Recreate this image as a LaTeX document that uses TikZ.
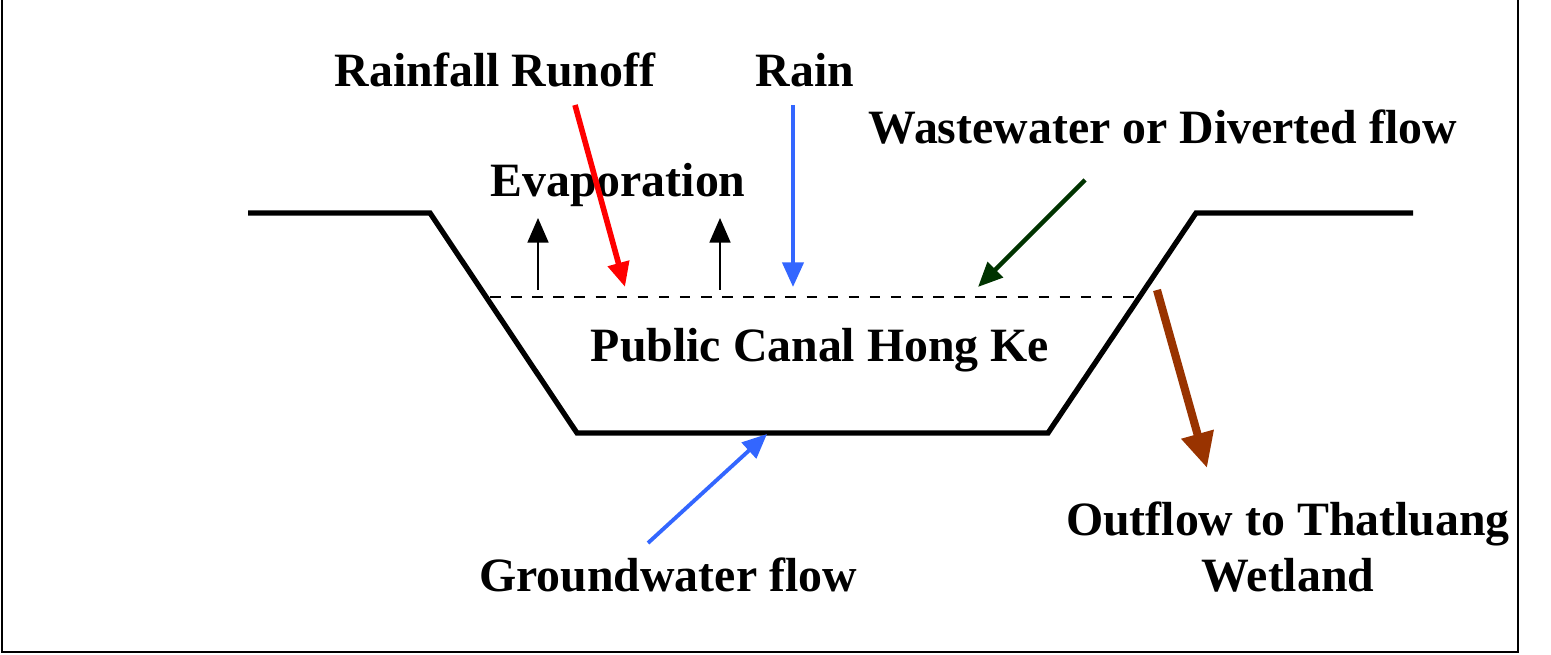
\documentclass[tikz,border=0pt]{standalone}
\usepackage{fontspec}
\setmainfont{Liberation Serif}
\usetikzlibrary{arrows.meta}
\definecolor{rainblue}{RGB}{51,102,255}
\definecolor{outbrown}{RGB}{153,51,0}
\definecolor{wastegreen}{RGB}{0,51,0}
\tikzset{
  lbl/.style={font=\fontsize{13.6}{16}\selectfont\bfseries,align=center},
  bank/.style={line width=1.5pt},
  flow/.style={-{Triangle[length=7pt,width=6pt]}},
}
\begin{document}
\begin{tikzpicture}[x=0.01cm,y=-0.01cm]
\useasboundingbox (0,0) rectangle (1551,655);
\draw [line width=0.8pt] (2,0) -- (2,652) -- (1518,652) -- (1518,0);
% canal section
\draw [bank] (248,213) -- (430,213) -- (577,433) -- (1048,433) -- (1196,213) -- (1413,213);
\draw [dashed] (490,297) -- (1140,297);
% labels
\node [lbl] (runoff) at (495,70) {Rainfall Runoff};
\node [lbl] (rain) at (805,70) {Rain};
\node [lbl] (waste) at (1163,127) {Wastewater or Diverted flow};
\node [lbl] (evap) at (618,185) {Evaporation};
\node [lbl] (canal) at (820,350) {Public Canal Hong Ke};
\node [lbl] (ground) at (668,575) {Groundwater flow};
\node [lbl] (out) at (1288,547) {Outflow to Thatluang\\Wetland};
% flows
\coordinate (e1a) at (538,290); \coordinate (e1b) at (538,218);
\coordinate (e2a) at (720,290); \coordinate (e2b) at (720,218);
\draw [flow, thin] (e1a) -- (e1b);
\draw [flow, thin] (e2a) -- (e2b);
\coordinate (r0) at (575,105); \coordinate (r1) at (625,287);
\draw [flow, red, line width=1.6pt] (r0) -- (r1);
\coordinate (ra0) at (793,105); \coordinate (ra1) at (793,287);
\draw [flow, rainblue, line width=1.1pt] (ra0) -- (ra1);
\coordinate (w0) at (1085,180); \coordinate (w1) at (978,287);
\draw [flow, wastegreen, line width=1.3pt] (w0) -- (w1);
\coordinate (o0) at (1157,290); \coordinate (o1) at (1207,468);
\draw [-{Triangle[length=10pt,width=9pt]}, outbrown, line width=2.3pt] (o0) -- (o1);
\coordinate (g0) at (648,543); \coordinate (g1) at (767,434);
\draw [flow, rainblue, line width=1.1pt] (g0) -- (g1);
\end{tikzpicture}
\end{document}
